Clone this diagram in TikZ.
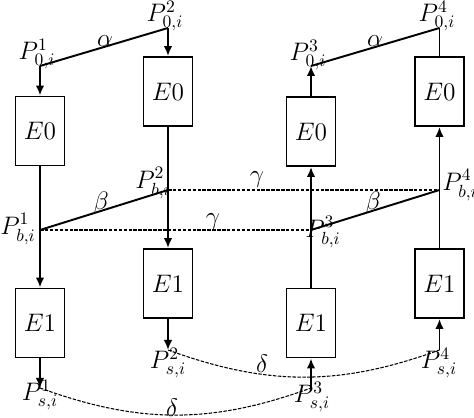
\documentclass[tikz,border=0pt]{standalone}
\usepackage{amsmath,amssymb}
\usepackage{tikz}
\usetikzlibrary{calc}
\usetikzlibrary{shapes}
\usetikzlibrary{arrows.meta}
\tikzset{
  ebox/.style={draw, line width=1.1pt, minimum width=0.98cm, minimum height=1.38cm, inner sep=0pt, font=\Large},
  flow/.style={line width=1.1pt, -{Latex[length=0.2cm, width=0.17cm]}},
  link/.style={line width=1.1pt},
  dlink/.style={line width=0.6pt, dash pattern=on 2pt off 0.8pt},
  plabel/.style={inner sep=0pt, font=\Large}
}
\newcommand{\ebox}[4]{\node[ebox] (#1) at ( #2 , #3 ) {$#4$};}
\newcommand{\spot}[3]{\coordinate (#1) at ( #2 , #3 );}
\newcommand{\plab}[4]{\node[plabel] (#1) at ( #2 , #3 ) {$#4$};}

\begin{document}
\begin{tikzpicture}[x=0.02cm, y=-0.02cm]
        \useasboundingbox (0,0) rectangle (474,418);
        % boxes
        \ebox{ea}{40}{131}{E0}
        \ebox{eb}{168}{91.5}{E0}
        \ebox{ec}{311}{131.5}{E0}
        \ebox{ed}{439.5}{91.5}{E0}
        \ebox{fa}{40}{323}{E1}
        \ebox{fb}{168}{283.5}{E1}
        \ebox{fc}{311}{323}{E1}
        \ebox{fd}{439.5}{283.5}{E1}
        % points
        \spot{oa}{40}{66}
        \spot{ob}{168}{28}
        \spot{oc}{311}{66}
        \spot{od}{439.5}{28}
        \spot{ba}{40}{230}
        \spot{bb}{168}{190}
        \spot{bc}{311}{230}
        \spot{bd}{439.5}{190}
        \spot{sa}{40}{388}
        \spot{sb}{168}{350}
        \spot{sc}{311}{388}
        \spot{sd}{439.5}{350}
        % point labels
        \plab{loa}{37}{54}{P^1_{0,i}}
        \plab{lob}{165}{16}{P^2_{0,i}}
        \plab{loc}{308}{55}{P^3_{0,i}}
        \plab{lod}{437}{16}{P^4_{0,i}}
        \plab{lba}{18}{229}{P^1_{b,i}}
        \plab{lbb}{153}{183}{P^2_{b,i}}
        \plab{lbc}{323}{232}{P^3_{b,i}}
        \plab{lbd}{460}{185}{P^4_{b,i}}
        \plab{lsa}{40}{395}{P^1_{s,i}}
        \plab{lsb}{168}{363}{P^2_{s,i}}
        \plab{lsc}{312}{397}{P^3_{s,i}}
        \plab{lsd}{439}{363}{P^4_{s,i}}
        % greek labels
        \plab{al}{105}{41}{\alpha}
        \plab{ar}{375}{41}{\alpha}
        \plab{bl}{101}{203}{\beta}
        \plab{br}{373}{203}{\beta}
        \plab{gt}{257}{180}{\gamma}
        \plab{gb}{213}{222}{\gamma}
        \plab{dt}{262}{364}{\delta}
        \plab{db}{172}{408}{\delta}
        % columns
        \draw[flow] (oa) -- (ea);
        \draw[flow] (ea) -- (fa);
        \draw[flow] (fa) -- (sa);
        \draw[flow] (ob) -- (eb);
        \draw[flow] (eb) -- (fb);
        \draw[flow] (fb) -- (sb);
        \draw[flow] (sc) -- (fc);
        \draw[flow] (fc) -- (ec);
        \draw[flow] (ec) -- (oc);
        \draw[flow] (sd) -- (fd);
        \draw[flow] (fd) -- (ed);
        \draw[link] (ed) -- (od);
        % links
        \draw[link] (oa) -- (ob);
        \draw[link] (oc) -- (od);
        \draw[link] (ba) -- (bb);
        \draw[link] (bc) -- (bd);
        \draw[dlink] (bb) -- (bd);
        \draw[dlink] (ba) -- (bc);
        \draw[dlink] (sa) to[bend right=20] (sc);
        \draw[dlink] (sb) to[bend right=20] (sd);
    \end{tikzpicture}
\end{document}
